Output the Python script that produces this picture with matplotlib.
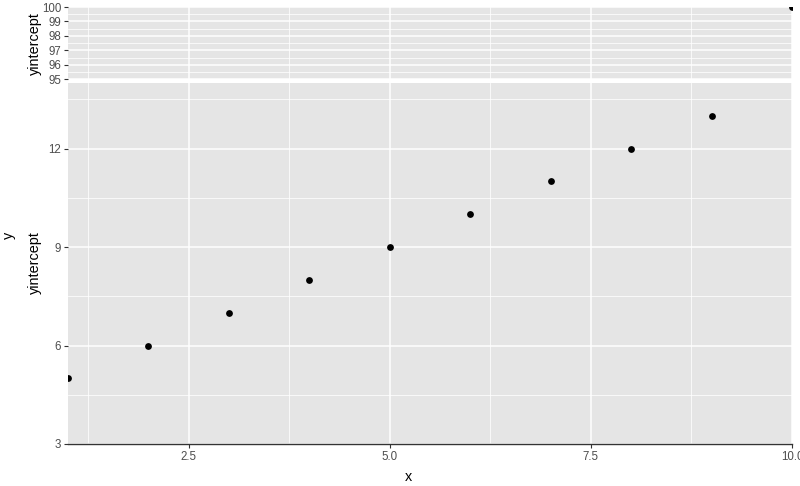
import numpy as np
import matplotlib.pyplot as plt
from matplotlib.ticker import FixedLocator

# data
x = [1, 2, 3, 4, 5, 6, 7, 8, 9, 10]
y = [5, 6, 7, 8, 9, 10, 11, 12, 13, 100]

x_ticks = [2.5, 5.0, 7.5, 10.0]
x_minor = [1.25, 3.75, 6.25, 8.75]
low_ticks = [3, 6, 9, 12]
low_minor = [4.5, 7.5, 10.5, 13.5]
high_ticks = [95, 96, 97, 98, 99, 100]
high_minor = [95.5, 96.5, 97.5, 98.5, 99.5]

plt.rcParams['font.family'] = ['Liberation Sans', 'DejaVu Sans']

fig = plt.figure(figsize=(8, 4.86), dpi=100)
W, H = 800, 486

def px_axes(x0, y0, x1, y1):
    return fig.add_axes([x0 / W, 1 - y1 / H, (x1 - x0) / W, (y1 - y0) / H])

ax_top = px_axes(68, 7, 792, 79.3)
ax_low = px_axes(68, 83, 792, 444)

for ax, yl, yt, ym in [(ax_top, (95, 100), high_ticks, high_minor),
                       (ax_low, (3, 14), low_ticks, low_minor)]:
    ax.set_facecolor('#E5E5E5')
    ax.scatter(x, y, s=24, color='black', zorder=3, linewidths=0)
    ax.set_xlim(1, 10)
    ax.set_ylim(*yl)
    ax.xaxis.set_major_locator(FixedLocator(x_ticks))
    ax.xaxis.set_minor_locator(FixedLocator(x_minor))
    ax.yaxis.set_major_locator(FixedLocator(yt))
    ax.yaxis.set_minor_locator(FixedLocator(ym))
    ax.set_yticklabels([str(v) for v in yt])
    ax.grid(which='major', color='white', linewidth=1.1)
    ax.grid(which='minor', color='white', linewidth=0.55)
    ax.set_axisbelow(True)
    for s in ax.spines.values():
        s.set_visible(False)
    ax.tick_params(axis='y', which='major', length=3, width=0.8, color='#333333',
                   labelsize=8.3, labelcolor='#4D4D4D', pad=2)
    ax.tick_params(which='minor', length=0)

ax_top.tick_params(axis='x', which='major', length=0, labelbottom=False)

ax_low.spines['bottom'].set_visible(True)
ax_low.spines['bottom'].set_color('#333333')
ax_low.spines['bottom'].set_linewidth(1.0)
ax_low.set_xticklabels([f'{v:.1f}' for v in x_ticks])
ax_low.tick_params(axis='x', which='major', length=3, width=0.8, color='#333333',
                   labelsize=8.3, labelcolor='#4D4D4D', pad=2)

fig.text(35 / W, 1 - 44 / H, 'yintercept', rotation=90, ha='center', va='center', fontsize=10.4)
fig.text(35 / W, 1 - 263 / H, 'yintercept', rotation=90, ha='center', va='center', fontsize=10.4)
fig.text(9 / W, 1 - 235 / H, 'y', rotation=90, ha='center', va='center', fontsize=10.4)
fig.text(408 / W, 1 - 477 / H, 'x', ha='center', va='center', fontsize=10.4)

fig.savefig('out.png', dpi=100)
